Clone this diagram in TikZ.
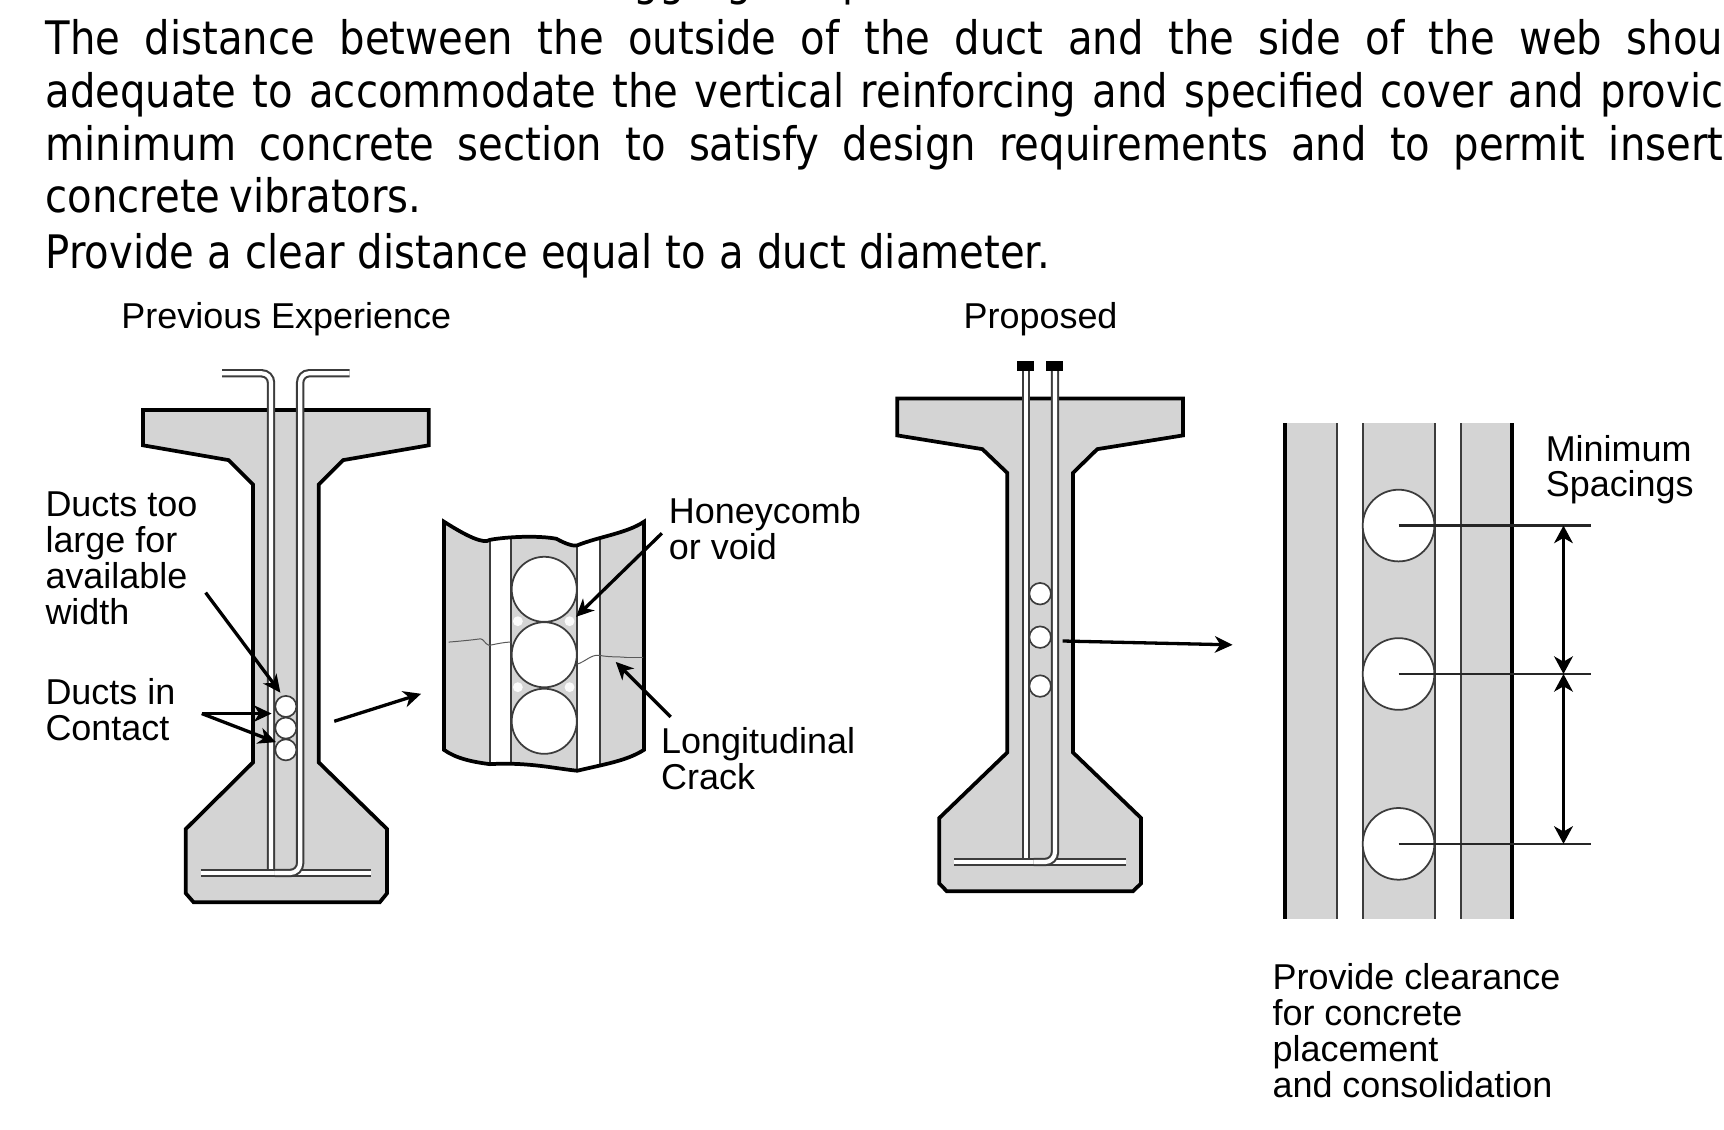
\documentclass[tikz,border=0pt]{standalone}
\usepackage{fontspec}
\usetikzlibrary{arrows.meta}
\setmainfont{Liberation Sans}
\newfontfamily\bodyfont[FakeStretch=0.87]{DejaVu Sans}
\definecolor{conc}{HTML}{D4D4D4}
\definecolor{wall}{HTML}{3C3C3C}
\newcommand{\bodyline}[2]{\hbox to #1pt{\spaceskip=0pt plus 1fil\relax #2}}
\newcommand{\detailpath}{(403.8,474.5) .. controls (425,488) and (440,495) .. (445.5,491) .. controls (462,488) and (490,487) .. (506,490) .. controls (515,495) and (522,497) .. (525,496) .. controls (545,488) and (570,485) .. (585.7,474.5) -- (585.7,682) .. controls (570,692) and (550,695) .. (525,701) .. controls (505,699) and (480,693) .. (445.5,695) .. controls (430,693) and (415,690) .. (403.8,682) -- cycle}
\tikzset{
  x=0.5pt,y=-0.5pt,
  concrete/.style={draw=black,fill=conc,line width=1.7pt,line join=miter},
  tube/.style={draw=wall,line width=0.95pt,double=white,double distance=1.9pt,line cap=butt},
  duct/.style={draw=wall,fill=white,line width=0.75pt,circle,inner sep=0pt},
  band/.style={fill=conc,draw=none},
  thinwall/.style={draw=wall,line width=0.9pt},
  thickwall/.style={draw=black,line width=1.9pt},
  arrowline/.style={draw=black,line width=1.5pt,-{Stealth[length=8pt,width=7.5pt,inset=2.4pt]}},
  dimline/.style={draw=black,line width=1.6pt,{Stealth[length=8pt,width=8.5pt,inset=2.4pt]}-{Stealth[length=8pt,width=8.5pt,inset=2.4pt]}},
  leader/.style={draw=black!85,line width=1pt},
  crack/.style={draw=black!65,line width=0.45pt},
  label/.style={anchor=base west,inner sep=0pt,font=\fontsize{16.35pt}{16.5pt}\selectfont,align=left},
  bodytext/.style={anchor=base west,inner sep=0pt,font=\bodyfont\fontsize{21pt}{24pt}\selectfont},
}
\begin{document}
\begin{tikzpicture}
\useasboundingbox (0,0) rectangle (1568,1027);
% ---------- tails of the line above, cut by the page edge
\begin{scope}
\clip (0,0) rectangle (1568,1027);
\node[bodytext] (g1) at (576,-4) {g};
\node[bodytext] (g2) at (599,-4) {g};
\node[bodytext] (g3) at (660,-4) {g};
\node[bodytext] (p1) at (766,-4) {p};
\end{scope}
% ---------- body text
\node[bodytext] (l1) at (41,50) {\bodyline{763}{The distance between the outside of the duct and the side of the web shou}};
\node[bodytext] (l2) at (41,98) {\bodyline{763}{adequate to accommodate the vertical reinforcing and specified cover and provic}};
\node[bodytext] (l3) at (41,146) {\bodyline{763}{minimum concrete section to satisfy design requirements and to permit insert}};
\node[bodytext] (l4) at (41,193) {\bodyline{171}{concrete vibrators.}};
\node[bodytext] (l5) at (41,244) {\bodyline{457}{Provide a clear distance equal to a duct diameter.}};
% ---------- headings
\node[label] (prev) at (110,299) {Previous Experience};
\node[label] (prop) at (876,299) {Proposed};
% ---------- left beam
\draw[concrete] (130,373) -- (390,373) -- (390,405) -- (312,418.5) -- (290,440.5) -- (290,693.5) -- (352,754) -- (352,812.5) -- (345.5,820.5) -- (176,820.5) -- (169,812.5) -- (169,754) -- (230,693.5) -- (230,440.5) -- (208,418.5) -- (130,405) -- cycle;
\draw[tube] (202,339.5) -- (238,339.5) to[out=0,in=90] (246.5,348) -- (246.5,790.6);
\draw[tube] (182.5,794) -- (337.5,794);
\draw[tube] (318,339.5) -- (281,339.5) to[out=180,in=90] (273,348) -- (273,785) to[out=-90,in=0] (264,794) -- (250,794);
\node[duct,minimum size=9.6pt] (d1) at (260,642.5) {};
\node[duct,minimum size=9.6pt] (d2) at (260,662.2) {};
\node[duct,minimum size=9.6pt] (d3) at (260,682) {};
% ---------- left labels
\node[label] (too) at (41,470) {Ducts too};
\node[label] (large) at (41,502.5) {large for};
\node[label] (avail) at (41,535.5) {available};
\node[label] (width) at (41,568) {width};
\node[label] (inc) at (41,641) {Ducts in};
\node[label] (contact) at (41,673.5) {Contact};
\coordinate (a1s) at (187,539);
\coordinate (a1e) at (255,630);
\coordinate (a2s) at (183.5,649);
\coordinate (a2e) at (247,649);
\coordinate (a3e) at (251,675);
\coordinate (a4s) at (304,656);
\coordinate (a4e) at (383,631);
\draw[arrowline] (a1s) -- (a1e);
\draw[arrowline] (a2s) -- (a2e);
\draw[arrowline] (a2s) -- (a3e);
\draw[arrowline] (a4s) -- (a4e);
% ---------- crack detail
\begin{scope}
\path[fill=conc] \detailpath;
\clip \detailpath;
\fill[white] (445.5,460) rectangle (464.6,710);
\fill[white] (525,460) rectangle (545.4,710);
\draw[thinwall] (445.5,460) -- (445.5,710) (464.6,460) -- (464.6,710) (525,460) -- (525,710) (545.4,460) -- (545.4,710);
\end{scope}
\draw[draw=black,line width=1.7pt] \detailpath;
\fill[white!90!conc] (471,565) circle (4.5) (518,565) circle (4.5) (471,625) circle (4.5) (518,625) circle (4.5);
\draw[crack] (408,584) .. controls (420,583) and (430,582) .. (437,581) .. controls (440,581) and (441,586) .. (445,587) .. controls (450,586) and (458,584) .. (464.6,584);
\draw[crack] (525,604) .. controls (532,602) and (538,595) .. (545,596) .. controls (555,598) and (562,597) .. (570,598) -- (585,598);
\node[duct,line width=0.8pt,minimum size=29.6pt] (b1) at (495,536) {};
\node[duct,line width=0.8pt,minimum size=29.6pt] (b2) at (495,595.5) {};
\node[duct,line width=0.8pt,minimum size=29.6pt] (b3) at (495,656) {};
\node[label] (honey) at (608,476) {Honeycomb};
\node[label] (void) at (608,508.5) {or void};
\node[label] (long) at (601,685) {Longitudinal};
\node[label] (crk) at (601,718) {Crack};
\coordinate (h1) at (602,485);
\coordinate (h2) at (524,561);
\coordinate (c1) at (610,652);
\coordinate (c2) at (560,602);
\draw[arrowline] (h1) -- (h2);
\draw[arrowline] (c1) -- (c2);
% ---------- right beam
\draw[concrete] (816,362.5) -- (1076,362.5) -- (1076,396) -- (998,408.5) -- (976,430) -- (976,684.5) -- (1037.8,744) -- (1037.8,803.5) -- (1030.5,810.5) -- (861,810.5) -- (854.3,803.5) -- (854.3,744) -- (916,684.5) -- (916,430) -- (893.5,408.5) -- (816,396) -- cycle;
\draw[tube] (933,337) -- (933,780.5);
\draw[tube] (867.7,784) -- (1024,784);
\draw[tube] (959.5,337) -- (959.5,775) to[out=-90,in=0] (950.5,784) -- (940,784);
\node[draw=black,fill=black,inner sep=0pt,minimum width=7.4pt,minimum height=4.2pt] (cap1) at (932.5,332.5) {};
\node[draw=black,fill=black,inner sep=0pt,minimum width=7.4pt,minimum height=4.2pt] (cap2) at (959.2,332.5) {};
\node[duct,minimum size=9.8pt] (p1d) at (946,540) {};
\node[duct,minimum size=9.8pt] (p2d) at (946,579.5) {};
\node[duct,minimum size=9.8pt] (p3d) at (946,624) {};
\coordinate (r1) at (966.5,583);
\coordinate (r2) at (1121,586.5);
\draw[arrowline] (r1) -- (r2);
% ---------- spacing detail
\fill[band] (1169,385) rectangle (1215.7,835.5);
\fill[band] (1239.4,385) rectangle (1305.2,835.5);
\fill[band] (1328.8,385) rectangle (1374.9,835.5);
\draw[thickwall] (1169,385) -- (1169,835.5);
\draw[thickwall] (1374.9,385) -- (1374.9,835.5);
\draw[thinwall] (1215.7,385) -- (1215.7,835.5);
\draw[thinwall] (1239.4,385) -- (1239.4,835.5);
\draw[thinwall] (1305.2,385) -- (1305.2,835.5);
\draw[thinwall] (1328.8,385) -- (1328.8,835.5);
\node[duct,line width=0.8pt,minimum size=32.6pt] (s1) at (1272,478) {};
\node[duct,line width=0.8pt,minimum size=32.6pt] (s2) at (1272,613) {};
\node[duct,line width=0.8pt,minimum size=32.6pt] (s3) at (1272,767.5) {};
\coordinate (e1) at (1446.7,478);
\coordinate (e2) at (1446.7,613);
\coordinate (e3) at (1446.7,767.5);
\draw[leader] (s1.center) -- (e1);
\draw[leader] (s2.center) -- (e2);
\draw[leader] (s3.center) -- (e3);
\coordinate (m1) at (1422,478);
\coordinate (m2) at (1422,613);
\coordinate (m3) at (1422,767.5);
\draw[dimline] (m1) -- (m2);
\draw[dimline] (m2) -- (m3);
\node[label] (min) at (1405.5,419.5) {Minimum};
\node[label] (spc) at (1405.5,452) {Spacings};
\node[label] (t1) at (1157,899.5) {Provide clearance};
\node[label] (t2) at (1157,932.5) {for concrete};
\node[label] (t3) at (1157,965.5) {placement};
\node[label] (t4) at (1157,998) {and consolidation};
\end{tikzpicture}
\end{document}
